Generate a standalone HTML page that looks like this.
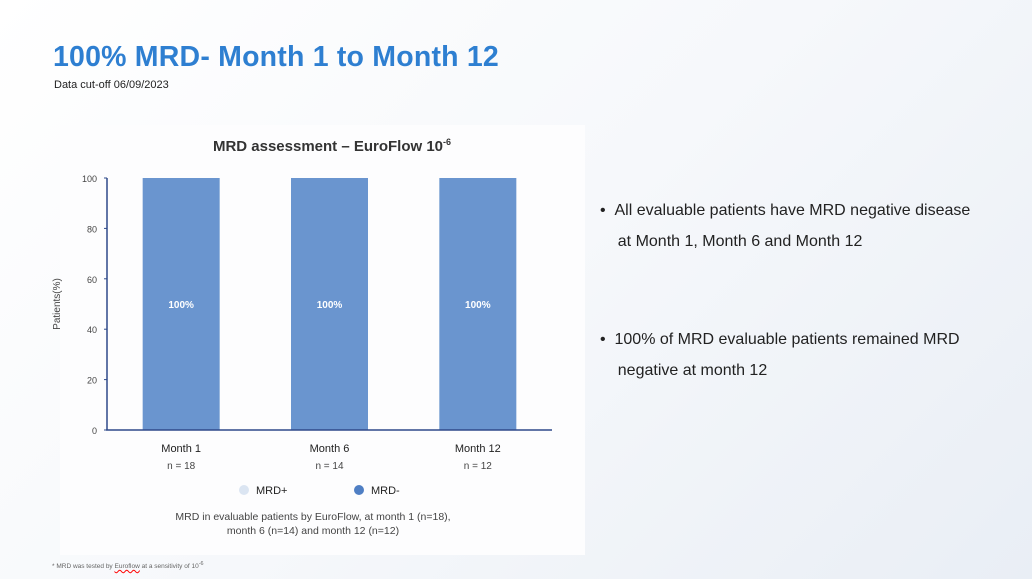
<!DOCTYPE html>
<html><head><meta charset="utf-8"><style>
body{margin:0;width:1032px;height:579px;overflow:hidden;font-family:"Liberation Sans",sans-serif;background:linear-gradient(135deg,#ffffff 0%,#f6f8fb 50%,#e9eef5 100%);position:relative}
.t{position:absolute;white-space:nowrap}
</style></head><body>
<div class="t" style="left:53px;top:41px;font-size:28.5px;font-weight:bold;color:#2e7fd1;letter-spacing:0.2px">100% MRD- Month 1 to Month 12</div>
<div class="t" style="left:54px;top:79px;font-size:11px;color:#222">Data cut-off 06/09/2023</div>
<div style="position:absolute;left:60px;top:125px;width:525px;height:430px;background:#fdfdfe"></div>
<svg id="chart" width="1032" height="579" style="position:absolute;left:0;top:0" font-family="Liberation Sans, sans-serif"></svg>
<div class="t" style="left:600px;top:195px;font-size:16px;color:#222;line-height:31px">•&nbsp;&nbsp;All evaluable patients have MRD negative disease<br>&nbsp;&nbsp;&nbsp;&nbsp;at Month 1, Month 6 and Month 12</div>
<div class="t" style="left:600px;top:324px;font-size:16px;color:#222;line-height:31px">•&nbsp;&nbsp;100% of MRD evaluable patients remained MRD<br>&nbsp;&nbsp;&nbsp;&nbsp;negative at month 12</div>
<div class="t" style="left:52px;top:561px;font-size:6.5px;color:#666">* MRD was tested by <span style="text-decoration:underline wavy red">Euroflow</span> at a sensitivity of 10<sup>-6</sup></div>
<script>
const categories=["Month 1","Month 6","Month 12"];
const nLabels=["n = 18","n = 14","n = 12"];
const mrdNeg=[100,100,100];
const mrdPos=[0,0,0];
const yTicks=[0,20,40,60,80,100];
const svg=document.getElementById('chart');
const NS='http://www.w3.org/2000/svg';
const x0=107,x1=552,y0=430,y1=178;
const band=(x1-x0)/categories.length;
const xc=i=>x0+band*(i+0.5);
const y=v=>y0-(v/100)*(y0-y1);
function mk(t,a,txt){const e=document.createElementNS(NS,t);for(const k in a)e.setAttribute(k,a[k]);if(txt!==undefined)e.textContent=txt;svg.appendChild(e);return e;}
let e=mk('text',{x:332,y:151,'text-anchor':'middle','font-size':15,'font-weight':'bold',fill:'#333'},'MRD assessment – EuroFlow 10');


const sup=document.createElementNS(NS,'tspan');sup.setAttribute('dy','-6');sup.setAttribute('font-size','9');sup.textContent='-6';e.appendChild(sup);
yTicks.forEach(v=>{
 let t=mk('text',{x:97,y:y(v)+4,'text-anchor':'end','font-size':9,fill:'#444'},v);
 
 
 let l=mk('line',{x1:104,x2:107,y1:y(v),y2:y(v),stroke:'#2f4a8a','stroke-width':1});
 
 
});
e=mk('text',{transform:'translate(60,304) rotate(-90)','text-anchor':'middle','font-size':10,fill:'#444'},'Patients(%)');


categories.forEach((c,i)=>{
 const w=77;
 let r=mk('rect',{x:xc(i)-w/2,y:y(mrdNeg[i]),width:w,height:y0-y(mrdNeg[i]),fill:'#6a95cf'});
 
 
 if(mrdPos[i]>0){let p=mk('rect',{x:xc(i)-w/2,y:y(mrdNeg[i]+mrdPos[i]),width:w,height:y(mrdNeg[i])-y(mrdNeg[i]+mrdPos[i]),fill:'#dbe5f2'});
 
 }
 let t=mk('text',{x:xc(i),y:y(mrdNeg[i]/2)+4,'text-anchor':'middle','font-size':10,'font-weight':'bold',fill:'#fff'},mrdNeg[i]+'%');
 
 
 t=mk('text',{x:xc(i),y:452,'text-anchor':'middle','font-size':11,fill:'#222'},c);
 
 
 t=mk('text',{x:xc(i),y:469,'text-anchor':'middle','font-size':10,fill:'#444'},nLabels[i]);
 
 
});
e=mk('line',{x1:107,x2:107,y1:y1,y2:y0,stroke:'#2f4a8a','stroke-width':1.5});


e=mk('line',{x1:106,x2:x1,y1:y0,y2:y0,stroke:'#2f4a8a','stroke-width':1.5});


e=mk('circle',{cx:244,cy:490,r:5,fill:'#dbe5f2'});


e=mk('text',{x:256,y:494,'font-size':11,fill:'#222'},'MRD+');


e=mk('circle',{cx:359,cy:490,r:5,fill:'#4f7fc4'});


e=mk('text',{x:371,y:494,'font-size':11,fill:'#222'},'MRD-');


e=mk('text',{x:313,y:520,'text-anchor':'middle','font-size':10.5,fill:'#444'},'MRD in evaluable patients by EuroFlow, at month 1 (n=18),');


e=mk('text',{x:313,y:534,'text-anchor':'middle','font-size':10.5,fill:'#444'},'month 6 (n=14) and month 12 (n=12)');


</script>
</body></html>
